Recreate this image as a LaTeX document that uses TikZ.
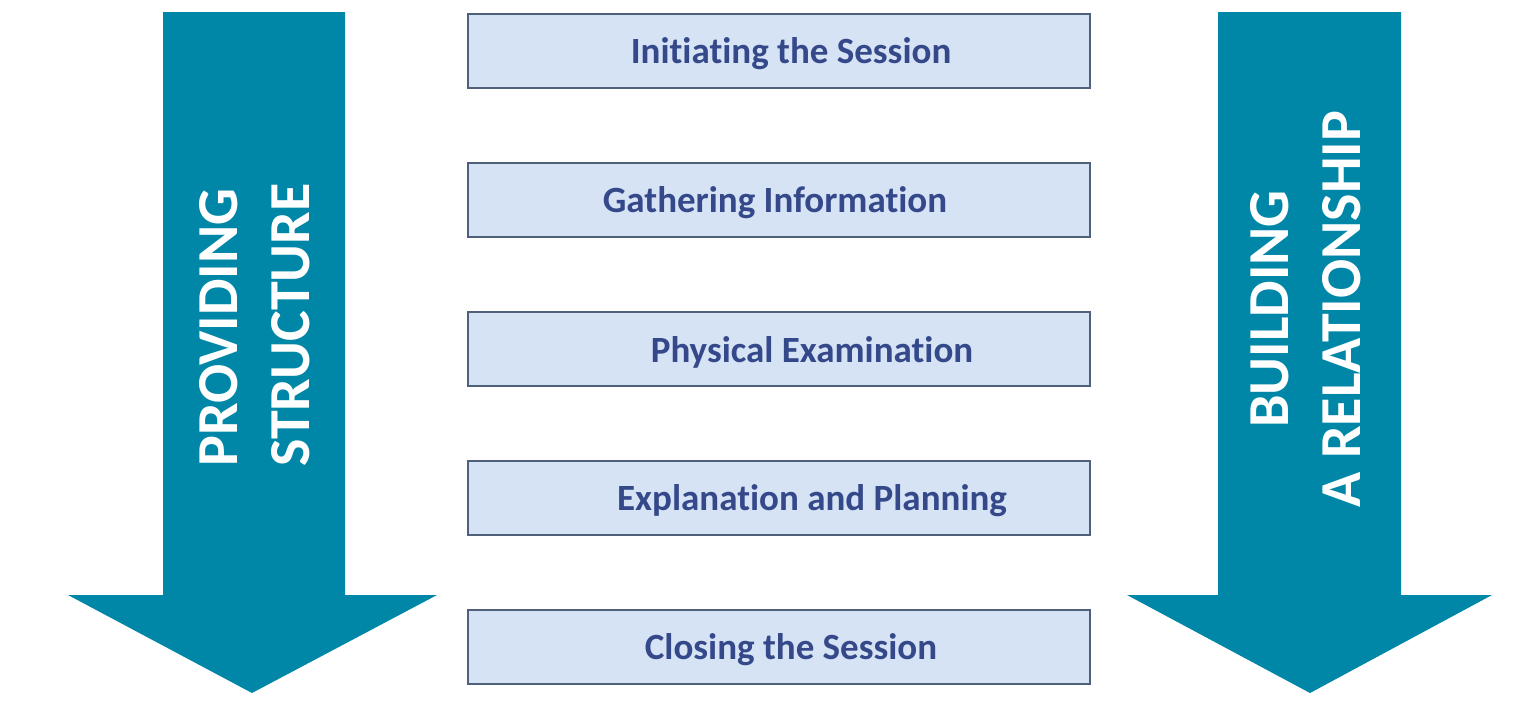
\documentclass[tikz,border=0pt]{standalone}
\usepackage{fontspec}
\setmainfont{Carlito}[Ligatures=NoCommon]
\usetikzlibrary{positioning,calc}
\definecolor{teal}{HTML}{0087A8}
\definecolor{boxfill}{HTML}{D5E3F5}
\definecolor{boxline}{HTML}{4F607A}
\definecolor{navy}{HTML}{34488A}
\begin{document}
\begin{tikzpicture}[x=1pt, y=-1pt,
    stage/.style={draw=boxline, line width=1.6pt, fill=boxfill, minimum width=622pt, minimum height=74pt, inner sep=0pt},
    stagetext/.style={text=navy, font=\fontsize{37}{44}\selectfont\bfseries},
    sidetext/.style={text=white, rotate=90, font=\fontsize{58}{72}\selectfont\bfseries}]
    \useasboundingbox (0,0) rectangle (1536,705);
    % left arrow
    \fill[teal] (163,12) -- (345,12) -- (345,595) -- (437,595) -- (252,693) -- (68,595) -- (163,595) -- cycle;
    \node[sidetext, align=left] (structure) at (255,325) {PROVIDING\\STRUCTURE};
    % right arrow
    \fill[teal] (1218,12) -- (1401,12) -- (1401,595) -- (1492,595) -- (1310,693) -- (1127,595) -- (1218,595) -- cycle;
    \node[sidetext, align=center] (relation) at (1306,309) {BUILDING\\A RELATIONSHIP};
    % stages
    \foreach \i/\txt/\dx in {0/Initiating the Session/12, 1/Gathering Information/-4, 2/Physical Examination/33, 3/Explanation and Planning/33, 4/Closing the Session/12} {
        \node[stage] (s\i) at (779,51+149*\i) {};
        \node[stagetext] (t\i) at ([xshift=\dx, yshift=-3]s\i.center) {\txt};
    }
\end{tikzpicture}
\end{document}
